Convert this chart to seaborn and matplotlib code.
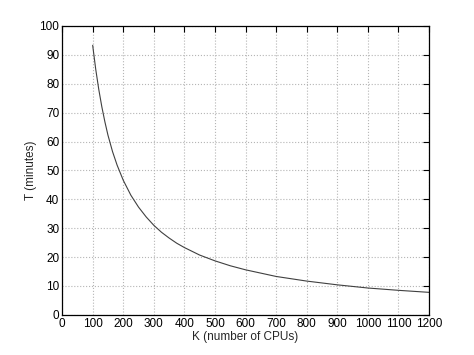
import matplotlib
matplotlib.use("Agg")
import matplotlib.pyplot as plt
import pandas as pd
import seaborn as sns

# values
cpus = [100, 110, 120, 130, 140, 150, 165, 180, 200, 225, 250, 275, 300, 325,
        350, 375, 400, 450, 500, 550, 600, 700, 800, 900, 1000, 1100, 1200]
minutes = [93.3, 85.0, 78.0, 72.0, 66.8, 62.2, 56.5, 51.8, 46.6, 41.4, 37.3,
           33.9, 31.0, 28.6, 26.6, 24.8, 23.3, 20.7, 18.7, 17.0, 15.6, 13.3,
           11.7, 10.4, 9.3, 8.5, 7.8]
x_ticks = list(range(0, 1201, 100))
y_ticks = list(range(0, 101, 10))

df = pd.DataFrame({"K": cpus, "T": minutes})

sns.set_theme(style="white")
plt.rcParams["font.family"] = ["Liberation Sans", "DejaVu Sans"]

fig = plt.figure(figsize=(4.74, 3.55), dpi=100)
ax = fig.add_axes([0.131, 0.113, 0.774, 0.814])

sns.lineplot(data=df, x="K", y="T", ax=ax, color="#404040", linewidth=0.8)

ax.set_xlim(0, 1200)
ax.set_ylim(0, 100)
ax.set_xticks(x_ticks)
ax.set_yticks(y_ticks)
ax.grid(True, linestyle=":", color="#b5b5b5", linewidth=0.8)
ax.tick_params(direction="in", length=4, width=0.8, top=True, right=True,
               labelsize=8.5, colors="black", pad=2)
for s in ax.spines.values():
    s.set_color("black")
    s.set_linewidth(0.9)
ax.set_xlabel("K (number of CPUs)", fontsize=8.5, labelpad=1)
ax.set_ylabel("T (minutes)", fontsize=8.5, labelpad=2)

fig.savefig("out.png", dpi=100)
